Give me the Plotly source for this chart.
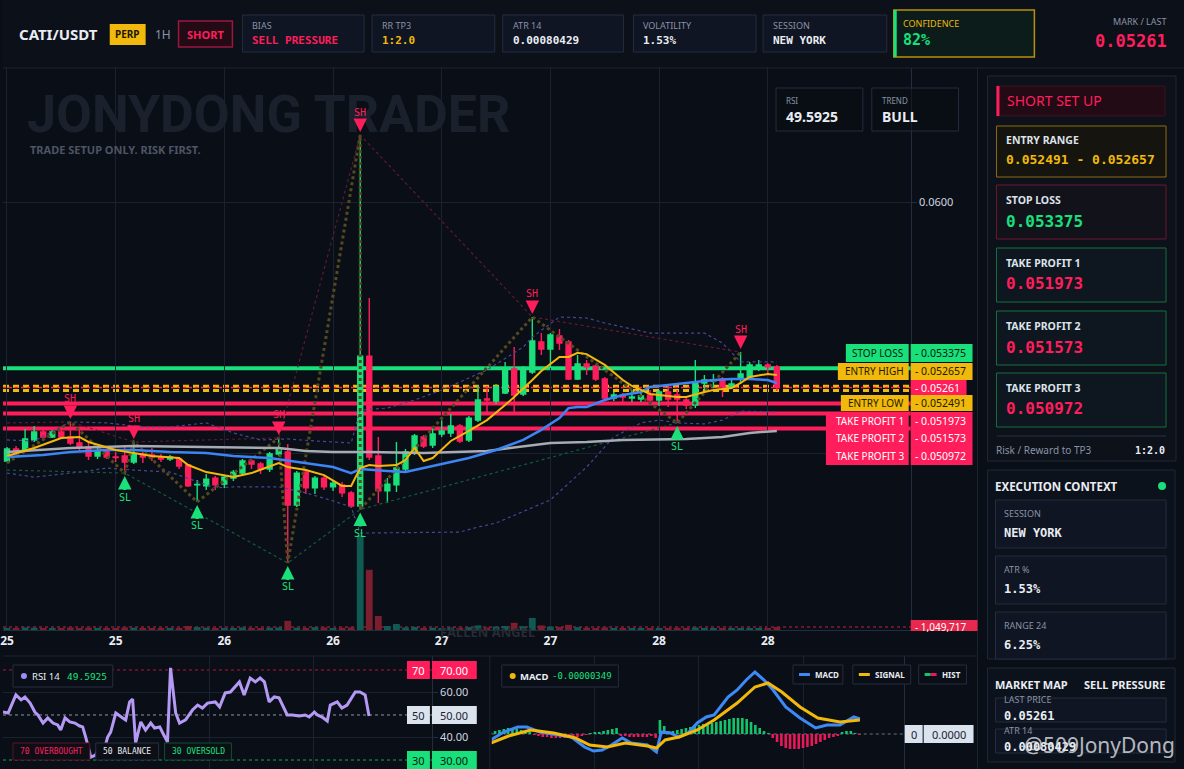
import plotly.graph_objects as go

W, H = 1184, 769

SANS = "Noto Sans"
MONO = "DejaVu Sans Mono"
BG = "#0a0e16"
GRID = "#1a2130"
EDGE = "#242d3e"
GREEN = "#19e07b"
RED = "#ff1d5c"
YELLOW = "#f0b90b"
WHITE = "#e9edf3"
GREY = "#8a93a6"

# ---------------- data ----------------
# 1H candles, hour 0 = day 25 00:00
hours = list(range(86))
day_ticks = [0, 12, 24, 36, 48, 60, 72, 84]
day_labels = ["25", "25", "26", "26", "27", "27", "28", "28"]
price_ticks = [0.05, 0.06]
price_labels = ["", "0.0600"]   # the 0.0500 label sits under the TP3 tag

open_p = [0.04968, 0.05016, 0.05008, 0.05052, 0.05084, 0.05064, 0.05084, 0.05064, 0.05040, 0.05024,
          0.04988, 0.05008, 0.04984, 0.04988, 0.04964, 0.04996, 0.04992, 0.04984, 0.04976, 0.04976,
          0.04952, 0.04873, 0.04869, 0.04900, 0.04876, 0.04900, 0.04920, 0.04968, 0.04956, 0.04936,
          0.04996, 0.05004, 0.04793, 0.04924, 0.04861, 0.04900, 0.04865, 0.04873, 0.04841, 0.04789,
          0.05386, 0.04988, 0.04849, 0.04873, 0.04936, 0.05000, 0.05064, 0.05032, 0.05076, 0.05080,
          0.05108, 0.05052, 0.05131, 0.05215, 0.05207, 0.05239, 0.05335, 0.05235, 0.05323, 0.05442,
          0.05414, 0.05466, 0.05442, 0.05295, 0.05355, 0.05347, 0.05295, 0.05219, 0.05231, 0.05219,
          0.05215, 0.05231, 0.05211, 0.05243, 0.05231, 0.05211, 0.05191, 0.05279, 0.05287, 0.05295,
          0.05263, 0.05295, 0.05303, 0.05339, 0.05351, 0.05343]
high_p = [0.05024, 0.05028, 0.05096, 0.05108, 0.05092, 0.05092, 0.05100, 0.05124, 0.05092, 0.05048,
          0.05020, 0.05016, 0.05004, 0.05032, 0.05044, 0.05004, 0.05020, 0.04996, 0.04992, 0.04984,
          0.04956, 0.04892, 0.04916, 0.04908, 0.04912, 0.04932, 0.04976, 0.04976, 0.04964, 0.05004,
          0.05060, 0.05036, 0.04928, 0.04932, 0.04908, 0.04908, 0.04892, 0.04884, 0.04849, 0.06267,
          0.05618, 0.05064, 0.04900, 0.05044, 0.05016, 0.05076, 0.05072, 0.05100, 0.05131, 0.05155,
          0.05116, 0.05147, 0.05271, 0.05267, 0.05275, 0.05363, 0.05422, 0.05347, 0.05542, 0.05478,
          0.05478, 0.05494, 0.05450, 0.05390, 0.05371, 0.05355, 0.05303, 0.05243, 0.05239, 0.05251,
          0.05239, 0.05251, 0.05251, 0.05271, 0.05251, 0.05227, 0.05371, 0.05311, 0.05315, 0.05303,
          0.05291, 0.05402, 0.05363, 0.05371, 0.05359, 0.05351]
low_p = [0.04964, 0.04992, 0.05004, 0.05044, 0.05048, 0.05060, 0.05056, 0.05032, 0.05004, 0.04972,
         0.04976, 0.04976, 0.04964, 0.04920, 0.04956, 0.04960, 0.04968, 0.04964, 0.04968, 0.04936,
         0.04865, 0.04805, 0.04853, 0.04853, 0.04861, 0.04888, 0.04912, 0.04936, 0.04916, 0.04924,
         0.04988, 0.04562, 0.04785, 0.04837, 0.04837, 0.04853, 0.04849, 0.04825, 0.04781, 0.04775,
         0.04972, 0.04801, 0.04801, 0.04845, 0.04924, 0.04992, 0.05020, 0.05020, 0.05064, 0.05064,
         0.05040, 0.05044, 0.05124, 0.05159, 0.05195, 0.05235, 0.05159, 0.05227, 0.05315, 0.05390,
         0.05339, 0.05410, 0.05291, 0.05291, 0.05311, 0.05287, 0.05215, 0.05207, 0.05203, 0.05203,
         0.05203, 0.05191, 0.05187, 0.05183, 0.05120, 0.05175, 0.05179, 0.05251, 0.05259, 0.05223,
         0.05255, 0.05275, 0.05291, 0.05327, 0.05319, 0.05247]
close_p = [0.05016, 0.05004, 0.05056, 0.05084, 0.05064, 0.05084, 0.05064, 0.05040, 0.05024, 0.04988,
           0.05008, 0.04984, 0.04982, 0.04964, 0.04996, 0.04984, 0.04984, 0.04976, 0.04984, 0.04948,
           0.04869, 0.04875, 0.04896, 0.04873, 0.04904, 0.04924, 0.04968, 0.04956, 0.04936, 0.04996,
           0.05016, 0.04793, 0.04920, 0.04861, 0.04900, 0.04865, 0.04880, 0.04841, 0.04789, 0.05386,
           0.04984, 0.04849, 0.04876, 0.04940, 0.05004, 0.05068, 0.05028, 0.05076, 0.05088, 0.05108,
           0.05048, 0.05139, 0.05211, 0.05211, 0.05263, 0.05335, 0.05231, 0.05335, 0.05446, 0.05414,
           0.05470, 0.05438, 0.05295, 0.05355, 0.05343, 0.05295, 0.05219, 0.05231, 0.05223, 0.05223,
           0.05227, 0.05211, 0.05243, 0.05215, 0.05215, 0.05191, 0.05279, 0.05291, 0.05291, 0.05263,
           0.05275, 0.05315, 0.05351, 0.05351, 0.05343, 0.05261]
volume = [700000, 600000, 900000, 800000, 600000, 500000, 600000, 900000, 700000, 800000,
          600000, 500000, 500000, 900000, 800000, 600000, 500000, 400000, 400000, 600000,
          1400000, 1000000, 800000, 700000, 700000, 600000, 900000, 500000, 600000, 800000,
          900000, 3200000, 800000, 700000, 1000000, 900000, 600000, 800000, 900000, 33000000,
          21000000, 4900000, 1400000, 2100000, 900000, 1100000, 700000, 800000, 600000, 900000,
          800000, 1000000, 1600000, 900000, 1200000, 1400000, 2500000, 1300000, 4200000, 1600000,
          1200000, 1100000, 1800000, 1000000, 800000, 700000, 900000, 600000, 500000, 500000,
          600000, 500000, 600000, 700000, 800000, 600000, 900000, 500000, 400000, 600000,
          500000, 700000, 600000, 500000, 600000, 1049717]

# moving averages (read at the visible points)
ema_fast_x = [0, 3, 6, 8, 9, 12, 14, 16, 19, 20, 22, 25, 27, 30, 31, 33, 35, 37, 38, 39,
              40, 41, 43, 44, 45, 46, 47, 49, 51, 53, 55, 56, 58, 59, 61, 62, 63, 64, 66, 68,
              69, 71, 74, 75, 77, 78, 80, 81, 82, 84, 85]
ema_fast_y = [0.04988, 0.05020, 0.05060, 0.05064, 0.05044, 0.05012, 0.05000, 0.04988, 0.04980, 0.04952,
              0.04924, 0.04904, 0.04920, 0.04960, 0.04944, 0.04932, 0.04912, 0.04869, 0.04869, 0.04940,
              0.04952, 0.04948, 0.04952, 0.04972, 0.05020, 0.04968, 0.04980, 0.05048, 0.05088, 0.05131,
              0.05191, 0.05223, 0.05291, 0.05327, 0.05383, 0.05383, 0.05399, 0.05394, 0.05351, 0.05291,
              0.05267, 0.05235, 0.05223, 0.05223, 0.05243, 0.05251, 0.05259, 0.05279, 0.05303, 0.05315,
              0.05311]
ema_mid_x = [0, 4, 7, 11, 14, 18, 22, 25, 29, 33, 36, 38, 39, 42, 44, 46, 49, 51, 54, 57,
             59, 61, 62, 63, 64, 66, 68, 70, 71, 74, 76, 78, 80, 82, 84, 85]
ema_mid_y = [0.04984, 0.04992, 0.05004, 0.05012, 0.05012, 0.05004, 0.05000, 0.04988, 0.04980, 0.04960,
             0.04944, 0.04920, 0.04936, 0.04928, 0.04924, 0.04940, 0.04964, 0.04980, 0.05012, 0.05052,
             0.05092, 0.05139, 0.05179, 0.05183, 0.05183, 0.05211, 0.05231, 0.05243, 0.05263, 0.05275,
             0.05283, 0.05291, 0.05295, 0.05295, 0.05291, 0.05279]
ema_slow_x = [0, 7, 14, 22, 30, 33, 36, 40, 46, 53, 60, 64, 68, 75, 79, 82, 85]
ema_slow_y = [0.05004, 0.05020, 0.05028, 0.05024, 0.05020, 0.05008, 0.05004, 0.05004, 0.05000, 0.05008,
              0.05040, 0.05044, 0.05052, 0.05056, 0.05064, 0.05080, 0.05088]

# envelope bands
band_up_x = [0, 3, 7, 11, 15, 18, 22, 25, 28, 31, 34, 38, 39, 42, 45, 48, 53, 57, 58, 61,
             64, 66, 71, 77, 79, 81, 85]
band_up_y = [0.05052, 0.05048, 0.05124, 0.05120, 0.05104, 0.05104, 0.05120, 0.05080, 0.05052, 0.05056,
             0.05048, 0.05040, 0.05171, 0.05179, 0.05211, 0.05251, 0.05331, 0.05422, 0.05462, 0.05542,
             0.05538, 0.05518, 0.05478, 0.05478, 0.05438, 0.05363, 0.05363]
band_lo_x = [0, 3, 8, 11, 14, 18, 23, 25, 30, 33, 36, 38, 39, 50, 52, 54, 60, 64, 67, 70,
             72, 74, 77, 79, 81, 85]
band_lo_y = [0.04920, 0.04904, 0.04924, 0.04940, 0.04932, 0.04924, 0.04861, 0.04865, 0.04865, 0.04841,
             0.04809, 0.04785, 0.04681, 0.04685, 0.04705, 0.04721, 0.04813, 0.04944, 0.05064, 0.05120,
             0.05131, 0.05120, 0.05116, 0.05131, 0.05167, 0.05163]

# swing structure
sh_x = [7, 14, 30, 39, 58, 81]
sl_x = [13, 21, 31, 39, 74]
zig_x = [0, 7, 13, 14, 21, 30, 31, 39, 39, 58, 74, 81]
zig_y = [0.04960, 0.05124, 0.04920, 0.05044, 0.04805, 0.05060, 0.04562, 0.06267, 0.04775, 0.05542,
         0.05120, 0.05402]
hi_line_x = [0, 7, 14, 30, 39, 58, 81]
hi_line_y = [0.05120, 0.05124, 0.05044, 0.05060, 0.06267, 0.05542, 0.05402]
lo_line_x = [0, 13, 31, 39, 74]
lo_line_y = [0.04932, 0.04920, 0.04562, 0.04775, 0.05120]

# trade levels
stop_loss = 0.053375
entry_high = 0.052657
entry_low = 0.052491
last_price = 0.05261
take_profits = [0.051973, 0.051573, 0.050972]

# RSI 14
rsi_x = [0, 1.2, 3.0, 4.2, 5.1, 6.3, 7.4, 8.1, 9.3, 10.4, 11.6, 12.7, 13.4, 14.4, 15.5, 16.7, 17.8,
         18.5, 19.2, 20.4, 21.5, 22.5, 23.6, 24.3, 25.0, 26.2, 27.8, 28.5, 29.4, 30.1, 30.8, 32.0,
         33.1, 34.3, 35.2, 36.4, 37.1, 38.2, 38.9, 40.1, 41.0, 42.4, 44.0, 45.2, 46.3, 47.5, 49.3,
         50.3, 51.6, 52.8, 54.9, 56.0, 57.4, 58.6, 59.7, 60.7, 61.8, 63.0, 64.1, 66.0, 67.2, 68.8,
         70.2, 71.1, 72.3, 73.0, 74.1, 75.3, 76.0, 77.6, 78.7, 79.9, 81.8, 82.9, 84.1, 85.0]
rsi_v = [51.3, 50.9, 58.9, 56.7, 58.0, 55.3, 51.3, 50.0, 46.4, 48.7, 46.4, 45.6, 43.3, 48.7, 46.9, 46.4,
         45.1, 44.7, 40.2, 31.3, 32.2, 36.7, 35.3, 40.2, 42.4, 50.9, 48.7, 47.8, 55.8, 57.1, 37.6, 46.9,
         43.3, 46.4, 44.2, 44.7, 42.0, 38.0, 70.9, 50.9, 46.4, 47.8, 52.2, 54.4, 53.1, 55.3, 55.8, 53.6,
         59.8, 60.2, 64.7, 58.9, 66.4, 64.7, 66.4, 64.7, 55.8, 58.0, 57.6, 50.0, 50.0, 49.6, 50.0, 49.1,
         51.3, 50.0, 49.1, 47.3, 54.4, 55.8, 53.1, 54.4, 60.2, 60.2, 58.9, 49.59]

# MACD
macd_x = [0, 3.0, 6.2, 8.3, 11.3, 15.4, 18.6, 21.6, 23.7, 25.7, 27.8, 30.3, 32.4, 36.1, 38.2, 39.3,
          41.4, 43.4, 45.5, 47.6, 49.7, 51.5, 54.7, 56.8, 58.9, 60.9, 63.0, 65.1, 68.0, 71.3, 74.9,
          77.5, 80.5, 83.7, 85.1]
macd_v = [-6e-5, 2e-5, 7e-5, 7e-5, 2e-5, -1e-5, -3e-5, -13e-5, -17e-5, -16e-5, -11e-5, -4e-5, -9e-5,
          -11e-5, -18e-5, 2e-5, 1e-5, -3e-5, 1e-5, 11e-5, 17e-5, 19e-5, 37e-5, 44e-5, 54e-5, 62e-5,
          54e-5, 44e-5, 27e-5, 16e-5, 6e-5, 9e-5, 9e-5, 17e-5, 15e-5]
signal_x = [0, 4.1, 9.2, 14.5, 19.5, 22.8, 26.9, 31.0, 36.1, 38.2, 40.2, 43.4, 47.6, 51.5, 56.8, 60.9,
            63.9, 67.1, 71.3, 75.4, 80.5, 85.1]
signal_v = [-9e-5, -2e-5, 4e-5, 1e-5, -4e-5, -11e-5, -13e-5, -9e-5, -12e-5, -14e-5, -6e-5, -3e-5, 4e-5,
            14e-5, 31e-5, 47e-5, 51e-5, 42e-5, 27e-5, 16e-5, 12e-5, 14e-5]
macd_hist = [2e-5, 3e-5, 4e-5, 5e-5, 6e-5, 6e-5, 5e-5, 4e-5, 3e-5, 2e-5,
             -1e-5, -2e-5, -3e-5, -3e-5, -4e-5, -4e-5, -4e-5, -4e-5, -3e-5, -3e-5, -3e-5, -2e-5,
             -1e-5, 1e-5, 2e-5, 2e-5, 3e-5, 4e-5, 5e-5, 6e-5,
             -2e-5, -2e-5, -3e-5, -3e-5, -3e-5, -3e-5, -3e-5, -2e-5, -4e-5,
             14e-5, 8e-5, 3e-5, 3e-5, 4e-5, 5e-5,
             6e-5, 7e-5, 8e-5, 9e-5, 10e-5, 10e-5, 11e-5, 12e-5, 13e-5, 14e-5, 15e-5, 16e-5, 16e-5,
             16e-5, 15e-5, 12e-5, 9e-5, 6e-5, 3e-5, 1e-5,
             -4e-5, -8e-5, -12e-5, -14e-5, -15e-5, -15e-5, -15e-5, -14e-5, -13e-5, -12e-5, -10e-5,
             -8e-5, -6e-5, -4e-5, -3e-5, -2e-5,
             2e-5, 3e-5, 3e-5, 1e-5, -1e-5]

# ---------------- figure ----------------
fig = go.Figure()

vol_colors = ["#0f5b53" if c >= o else "#7b1f2f" for o, c in zip(open_p, close_p)]
fig.add_trace(go.Bar(x=hours, y=volume, marker_color=vol_colors, marker_line_width=0, width=0.75,
                     xaxis="x", yaxis="y2", hoverinfo="skip"))

fig.add_trace(go.Scatter(x=band_up_x, y=band_up_y, mode="lines", line=dict(color="#4a4596", width=1.2, dash="dot")))
fig.add_trace(go.Scatter(x=band_lo_x, y=band_lo_y, mode="lines", line=dict(color="#4a4596", width=1.2, dash="dot")))
fig.add_trace(go.Scatter(x=lo_line_x, y=lo_line_y, mode="lines", line=dict(color="#135a3e", width=1.2, dash="dot")))
fig.add_trace(go.Scatter(x=hi_line_x, y=hi_line_y, mode="lines", line=dict(color="#5e1a33", width=1.2, dash="dot")))
fig.add_trace(go.Scatter(x=zig_x, y=zig_y, mode="lines", line=dict(color="#544a20", width=3, dash="dot")))

fig.add_trace(go.Scatter(x=ema_slow_x, y=ema_slow_y, mode="lines", line=dict(color="#a7abb3", width=2.5)))
fig.add_trace(go.Scatter(x=ema_mid_x, y=ema_mid_y, mode="lines", line=dict(color="#3d84f5", width=2.5)))
fig.add_trace(go.Scatter(x=ema_fast_x, y=ema_fast_y, mode="lines", line=dict(color="#f3b80c", width=2)))

fig.add_trace(go.Candlestick(
    x=hours, open=open_p, high=high_p, low=low_p, close=close_p, whiskerwidth=0,
    increasing=dict(line=dict(color=GREEN, width=1.4), fillcolor=GREEN),
    decreasing=dict(line=dict(color=RED, width=1.4), fillcolor=RED),
))

# RSI panel
fig.add_trace(go.Scatter(x=rsi_x, y=rsi_v, mode="lines", line=dict(color="#b49af5", width=3),
                         xaxis="x3", yaxis="y3"))

# MACD panel
hist_colors = ["#12c46b" if v >= 0 else "#e8185a" for v in macd_hist]
fig.add_trace(go.Bar(x=hours, y=macd_hist, marker_color=hist_colors, marker_line_width=0, width=0.6,
                     xaxis="x4", yaxis="y4"))
fig.add_trace(go.Scatter(x=macd_x, y=macd_v, mode="lines", line=dict(color="#3d8af7", width=3),
                         xaxis="x4", yaxis="y4"))
fig.add_trace(go.Scatter(x=signal_x, y=signal_v, mode="lines", line=dict(color="#f3b80c", width=3),
                         xaxis="x4", yaxis="y4"))

# ---------------- decorations ----------------
shapes = []
annotations = []


def rect(x0, y0, x1, y1, fill="rgba(0,0,0,0)", line=None, lw=1):
    shapes.append(dict(type="rect", xref="paper", yref="paper",
                       x0=x0 / W, x1=x1 / W, y0=1 - y1 / H, y1=1 - y0 / H,
                       fillcolor=fill, line=dict(color=line or "rgba(0,0,0,0)", width=lw if line else 0),
                       layer="above"))


def seg(x0, y0, x1, y1, color, lw=1, dash="solid"):
    shapes.append(dict(type="line", xref="paper", yref="paper",
                       x0=x0 / W, x1=x1 / W, y0=1 - y0 / H, y1=1 - y1 / H,
                       line=dict(color=color, width=lw, dash=dash), layer="above"))


def dot(x, y, r, color):
    shapes.append(dict(type="circle", xref="paper", yref="paper",
                       x0=(x - r) / W, x1=(x + r) / W, y0=1 - (y + r) / H, y1=1 - (y - r) / H,
                       fillcolor=color, line=dict(width=0), layer="above"))


def text(x, y, s, size=10, color=WHITE, family=SANS, anchor="left", bold=False):
    annotations.append(dict(xref="paper", yref="paper", x=x / W, y=1 - y / H,
                            text="<b>%s</b>" % s if bold else s, showarrow=False,
                            xanchor=anchor, yanchor="middle",
                            font=dict(family=family, size=size, color=color)))


def level(xref, yref, y, color, width, dash="solid"):
    shapes.append(dict(type="line", xref=xref, yref=yref, x0=0, x1=1, y0=y, y1=y,
                       line=dict(color=color, width=width, dash=dash), layer="below"))


# trade levels on the price chart
level("x domain", "y", stop_loss, GREEN, 4)
level("x domain", "y", entry_high, YELLOW, 3, "6px,4px")
level("x domain", "y", entry_low, YELLOW, 3, "6px,4px")
level("x domain", "y", last_price, RED, 1.3, "dot")
for tp in take_profits:
    level("x domain", "y", tp, RED, 4)
level("x domain", "y2", volume[-1], "#c4244a", 1, "dot")

# RSI guide lines and MACD zero line
for val, col in [(70, "#b3173f"), (50, "#8e97a9"), (30, "#17a35c")]:
    level("x3 domain", "y3", val, col, 1, "dot")
level("x4 domain", "y4", 0, "#6b7385", 1, "dot")

# watermark
text(22, 114, "JONYDONG TRADER", 52, "#1b212c", "Roboto", bold=True)
text(25, 149, "TRADE SETUP ONLY. RISK FIRST.", 11, "#4d5464", SANS, bold=True)
text(486, 632, "FALLEN ANGEL", 13, "#262b35", SANS, "center", bold=True)

# swing labels
for i in sh_x:
    annotations.append(dict(x=i, y=high_p[i], xref="x", yref="y", text="SH", showarrow=True,
                            ax=0, ay=-23, arrowhead=2, arrowsize=0.9, arrowwidth=3, arrowcolor=RED,
                            standoff=3, font=dict(family=MONO, size=10, color=RED)))
for i in sl_x:
    annotations.append(dict(x=i, y=low_p[i], xref="x", yref="y", text="SL", showarrow=True,
                            ax=0, ay=24, arrowhead=2, arrowsize=0.9, arrowwidth=3, arrowcolor=GREEN,
                            standoff=3, font=dict(family=MONO, size=10, color=GREEN)))

# header
rect(0, 0, W, 68, fill="#0c1019")
seg(0, 68, W, 68, "#1c2331")
text(14, 34, "CATI/USDT", 15, WHITE, SANS, bold=True)
rect(107, 24, 143, 45, fill=YELLOW)
text(125, 34.5, "PERP", 10, "#1c1600", SANS, "center", bold=True)
text(160, 34, "1H", 12, GREY, SANS, "center")
rect(176, 21, 230, 47, fill="#220b14", line="#9c1740", lw=1.5)
text(203, 34, "SHORT", 11, RED, SANS, "center", bold=True)

cards = [(240, 362, "BIAS", "SELL PRESSURE", RED),
         (370, 493, "RR TP3", "1:2.0", YELLOW),
         (501, 622, "ATR 14", "0.00080429", WHITE),
         (632, 755, "VOLATILITY", "1.53%", WHITE),
         (762, 886, "SESSION", "NEW YORK", WHITE)]
for x0, x1, lab, val, col in cards:
    rect(x0, 15, x1, 52, fill="#0f1522", line=EDGE)
    text(x0 + 8, 26, lab, 9, GREY, SANS)
    text(x0 + 8, 41, val, 11, col, MONO, bold=True)

rect(893, 10, 1034, 57, fill="#0b1c1a", line="#b8900b", lw=1.5)
rect(893, 10, 896, 57, fill=GREEN)
text(900, 23, "CONFIDENCE", 9, YELLOW, SANS)
text(900, 40, "82%", 15, GREEN, MONO, bold=True)
text(1169, 22, "MARK / LAST", 9, GREY, SANS, "right")
text(1169, 41, "0.05261", 17, RED, MONO, "right", bold=True)

# chart frame
seg(977, 68, 977, 769, "#1c2331")
seg(0, 656, 977, 656, "#1c2331")
seg(488, 656, 488, 769, "#1c2331")

# RSI / TREND boxes
for x0, lab, val in [(775, "RSI", "49.5925"), (871, "TREND", "BULL")]:
    rect(x0, 88, x0 + 87, 131, fill="rgba(10,14,22,0.55)", line=EDGE)
    text(x0 + 8, 101, lab, 8, GREY, SANS)
    text(x0 + 8, 117, val, 14, WHITE, SANS, bold=True)

# price scale labels
tags = [(845, 344, 362, "STOP LOSS", "0.053375", GREEN, "#06210f"),
        (837, 363, 380, "ENTRY HIGH", "0.052657", YELLOW, "#241a00"),
        (840, 395, 411, "ENTRY LOW", "0.052491", YELLOW, "#241a00"),
        (825, 412, 429, "TAKE PROFIT 1", "0.051973", RED, "#ffffff"),
        (825, 429, 447, "TAKE PROFIT 2", "0.051573", RED, "#ffffff"),
        (825, 447, 465, "TAKE PROFIT 3", "0.050972", RED, "#ffffff")]
for x0, y0, y1, lab, val, fill, fg in tags:
    rect(x0, y0, 908, y1, fill=fill)
    rect(910, y0, 972, y1, fill=fill)
    text(905, (y0 + y1) / 2, lab, 10, fg, SANS, "right")
    text(912, (y0 + y1) / 2, "- " + val, 10.5, fg, SANS)
rect(910, 380, 966, 395, fill=RED)
text(912, 388, "- 0.05261", 10.5, "#ffffff", SANS)
rect(910, 620, 977, 631, fill="#e8294f")
text(912, 627, "- 1,049,717", 10, "#ffffff", SANS)

# right panel: setup
rect(987, 76, 1176, 461, fill="#0c111a", line="#1f2838")
rect(996, 86, 1165, 116, fill="#220b15", line="#3a1422")
rect(996, 86, 999, 116, fill=RED)
text(1005, 101, "SHORT SET UP", 14, RED, SANS)
rect(996, 126, 1166, 177, fill="#15140f", line="#8d6c10")
text(1004, 140, "ENTRY RANGE", 10.5, "#dde2ea", SANS, bold=True)
text(1004, 159, "0.052491 - 0.052657", 13, YELLOW, MONO, bold=True)
rect(996, 185, 1166, 239, fill="#12121b", line="#6e1830")
text(1004, 200, "STOP LOSS", 10.5, "#dde2ea", SANS, bold=True)
text(1004, 221, "0.053375", 16, GREEN, MONO, bold=True)
for k, (y0, tp) in enumerate(zip([248, 311, 373], take_profits)):
    rect(996, y0, 1166, y0 + 54, fill="#0e171f", line="#17703f")
    text(1004, y0 + 15, "TAKE PROFIT %d" % (k + 1), 10.5, "#dde2ea", SANS, bold=True)
    text(1004, y0 + 36, "%.6f" % tp, 16, RED, MONO, bold=True)
seg(996, 436, 1166, 436, "#263043")
text(994, 450, "Risk / Reward to TP3", 10, GREY, SANS)
text(1167, 450, "1:2.0", 10, WHITE, MONO, "right", bold=True)

# right panel: execution context
rect(987, 470, 1175, 659, fill="#0c121b", line="#1f2838")
text(993, 486, "EXECUTION CONTEXT", 11.5, WHITE, SANS, bold=True)
dot(1162, 486, 4, GREEN)
for y0, lab, val in [(500, "SESSION", "NEW YORK"), (556, "ATR %", "1.53%"), (612, "RANGE 24", "6.25%")]:
    rect(995, y0, 1166, min(y0 + 48, 659), fill="#0f1522", line=EDGE)
    text(1002, y0 + 13, lab, 9, GREY, SANS)
    text(1002, y0 + 33, val, 12, WHITE, MONO, bold=True)

# right panel: market map
rect(987, 668, 1175, 762, fill="#0c121b", line="#1f2838")
text(993, 684, "MARKET MAP", 11, WHITE, SANS, bold=True)
text(1167, 684, "SELL PRESSURE", 11, WHITE, SANS, "right", bold=True)
for y0, lab, val in [(698, "LAST PRICE", "0.05261"), (729, "ATR 14", "0.00080429")]:
    rect(995, y0, 1166, y0 + 24, fill="#0f1522", line=EDGE)
    text(1002, y0 + 1, lab, 9, GREY, SANS)
    text(1002, y0 + 18, val, 12, WHITE, MONO, bold=True)
text(1177, 745, "@509JonyDong", 21, "rgba(225,228,232,0.8)", SANS, "right")

# RSI legend and guide tags
rect(10, 665, 110, 687, fill=BG, line=EDGE)
dot(21, 676, 3, "#9d8df1")
text(27, 676, "RSI 14", 9.5, WHITE, SANS)
text(62, 676, "49.5925", 9.5, GREEN, MONO)
for x0, x1, s, col, edge in [(10, 87, "70 OVERBOUGHT", RED, "#5a1427"),
                             (93, 156, "50 BALANCE", WHITE, "#263043"),
                             (162, 229, "30 OVERSOLD", GREEN, "#0f5030")]:
    rect(x0, 743, x1, 760, fill="#0c0f16", line=edge)
    text((x0 + x1) / 2, 751.5, s, 8, col, MONO, "center")
for y, fill, fg, lab in [(670, RED, "#ffffff", "70"), (715, "#dbe4ee", "#1a2230", "50"),
                         (760, GREEN, "#06210f", "30")]:
    rect(405, y - 9, 428, y + 9, fill=fill)
    rect(430, y - 9, 475, y + 9, fill=fill)
    text(416.5, y, lab, 11, fg, SANS, "center")
    text(452.5, y, lab + ".00", 11, fg, SANS, "center")

# MACD legend and chips
rect(500, 665, 617, 687, fill=BG, line=EDGE)
dot(511, 676, 3, YELLOW)
text(516, 676, "MACD", 9.5, WHITE, SANS, bold=True)
text(548, 676, "-0.00000349", 9, GREEN, MONO)
rect(792, 665, 842, 684, fill=BG, line=EDGE)
seg(798, 674.5, 809, 674.5, "#3d8af7", 3)
text(812, 674.5, "MACD", 8, WHITE, SANS, bold=True)
rect(852, 665, 910, 684, fill=BG, line=EDGE)
seg(858, 674.5, 869, 674.5, YELLOW, 3)
text(872, 674.5, "SIGNAL", 8, WHITE, SANS, bold=True)
rect(918, 665, 966, 684, fill=BG, line=EDGE)
seg(924, 674.5, 930, 674.5, "#12c46b", 3)
seg(930, 674.5, 936, 674.5, "#e8185a", 3)
text(939, 674.5, "HIST", 8, WHITE, SANS, bold=True)
rect(904, 725, 922, 743, fill="#dbe4ee")
rect(923, 725, 973, 743, fill="#dbe4ee")
text(913, 734, "0", 11, "#1a2230", SANS, "center")
text(948, 734, "0.0000", 11, "#1a2230", SANS, "center")

# ---------------- layout ----------------
axis_font = dict(family=SANS, size=11, color="#cfd6e0")
fig.update_layout(
    width=W, height=H, margin=dict(l=0, r=0, t=0, b=0),
    paper_bgcolor=BG, plot_bgcolor=BG, showlegend=False, boxgap=0.22,
    xaxis=dict(domain=[0, 910 / W], range=[-0.44, 99.78], anchor="y",
               tickvals=day_ticks, ticktext=["<b>%s</b>" % d for d in day_labels],
               tickfont=dict(family=SANS, size=12, color=WHITE), ticks="", ticklabeloverflow="allow",
               showgrid=True, gridcolor=GRID, zeroline=False, showline=True, linecolor=EDGE,
               rangeslider=dict(visible=False)),
    yaxis=dict(domain=[1 - 630 / H, 1 - 68 / H], range=[0.042948, 0.06534], anchor="x", side="right",
               tickvals=price_ticks, ticktext=price_labels, tickfont=axis_font,
               showgrid=True, gridcolor=GRID, zeroline=False, showline=True, linecolor=EDGE,
               ticks="outside", ticklen=5, tickcolor=EDGE),
    yaxis2=dict(overlaying="y", range=[0, 1.96e8], visible=False, anchor="x"),
    xaxis3=dict(domain=[0, 430 / W], range=[0, 99.6], anchor="y3", tickvals=[48, 72],
                showticklabels=False, showgrid=True, gridcolor=GRID, zeroline=False),
    yaxis3=dict(domain=[0, 1 - 656 / H], range=[26, 76.2], anchor="x3", side="right",
                tickvals=[40, 60], ticktext=["40.00", "60.00"], tickfont=axis_font,
                showgrid=True, gridcolor=GRID, zeroline=False, showline=True, linecolor=EDGE,
                ticks="outside", ticklen=5, tickcolor=EDGE),
    xaxis4=dict(domain=[490 / W, 903 / W], range=[0.23, 95.2], anchor="y4", tickvals=[24, 48, 72],
                showticklabels=False, showgrid=True, gridcolor=GRID, zeroline=False),
    yaxis4=dict(domain=[0, 1 - 656 / H], range=[-0.00035, 0.00078], anchor="x4", side="right",
                showticklabels=False, showgrid=False, zeroline=False, showline=True, linecolor=EDGE),
    shapes=shapes,
    annotations=annotations,
    hovermode=False,
)

# the page body has a default 8px margin; drop it so the figure fills the window
fig.write_html("out.html", config={"displayModeBar": False},
               post_script="document.body.style.margin='0px';")
